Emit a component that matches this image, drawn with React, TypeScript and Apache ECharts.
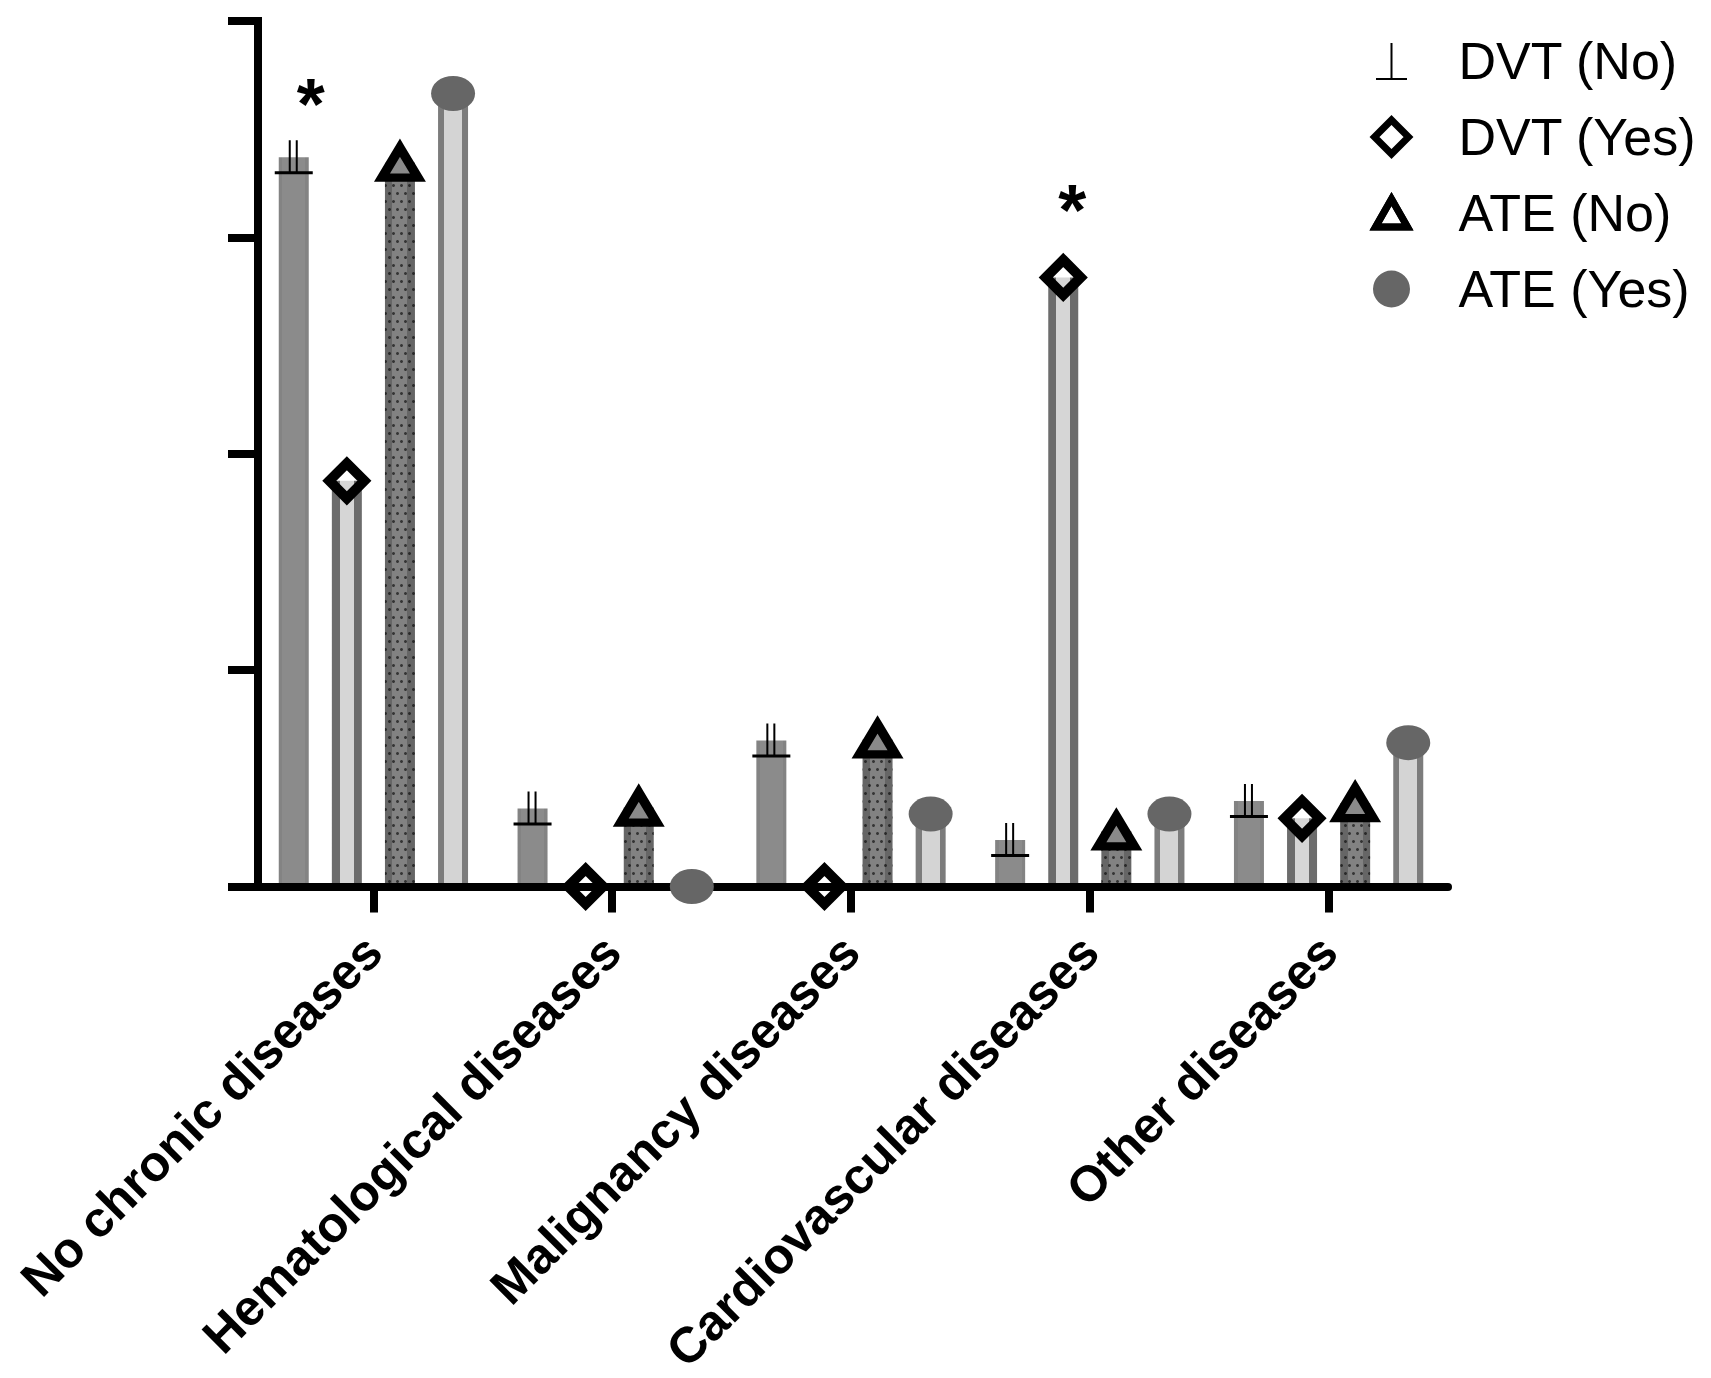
import React, { useEffect, useRef } from 'react';
import * as echarts from 'echarts';

// ---------- data ----------
const categories = [
  'No chronic diseases',
  'Hematological diseases',
  'Malignancy diseases',
  'Cardiovascular diseases',
  'Other diseases',
];
const seriesNames = ['DVT (No)', 'DVT (Yes)', 'ATE (No)', 'ATE (Yes)'];
const dvtNo = [67.4, 7.2, 13.5, 4.3, 7.9];
const dvtYes = [37.5, 0, 0, 56.3, 6.3];
const ateNo = [66.9, 7.3, 13.6, 5.1, 7.7];
const ateYes = [73.3, 0, 6.7, 6.7, 13.3];
const yTicks = [0, 20, 40, 60, 80];
const significance = [
  { series: 'DVT (No)', category: 'No chronic diseases', label: '*' },
  { series: 'DVT (Yes)', category: 'Cardiovascular diseases', label: '*' },
];

const seriesValues: Record<string, number[]> = {
  'DVT (No)': dvtNo,
  'DVT (Yes)': dvtYes,
  'ATE (No)': ateNo,
  'ATE (Yes)': ateYes,
};

// ---------- styles ----------
const FONT = '"Liberation Sans", Arial, Helvetica, sans-serif';

function stripes(edge: string, inner: string, e: number) {
  return {
    type: 'linear',
    x: 0,
    y: 0,
    x2: 1,
    y2: 0,
    colorStops: [
      { offset: 0, color: edge },
      { offset: e, color: edge },
      { offset: e, color: inner },
      { offset: 1 - e, color: inner },
      { offset: 1 - e, color: edge },
      { offset: 1, color: edge },
    ],
  };
}

const NO_DECAL = { symbol: 'rect', color: 'rgba(0,0,0,0)' };
const PAD = 'M0,0L0,0Z M44,44L44,44Z ';
const styles: Record<string, any> = {
  'DVT (No)': {
    bar: stripes('#838383', '#8b8b8b', 0.12),
    marker: {
      symbol: 'path://M14,0h2v32h-2z M21,0h2v32h-2z M0,31h38v3h-38z',
      symbolSize: [38, 34],
      itemStyle: { color: '#000' },
    },
    legendIcon: 'path://' + PAD + 'M21,4h2v36h-2z M6.5,39h31v2h-31z',
    legendStyle: { color: '#000', borderWidth: 0 },
    sigOffset: [17, -53],
  },
  'DVT (Yes)': {
    bar: stripes('#6c6c6c', '#d6d6d6', 0.27),
    marker: {
      symbol: 'diamond',
      symbolSize: 35,
      itemStyle: { color: 'rgba(0,0,0,0)', borderColor: '#000', borderWidth: 10, borderJoin: 'miter' },
    },
    legendIcon: 'path://' + PAD + 'M22,5L39,22L22,39L5,22Z',
    legendStyle: { color: '#fff', borderColor: '#000', borderWidth: 7, borderJoin: 'miter' },
    sigOffset: [9, -67],
  },
  'ATE (No)': {
    bar: stripes('#666666', '#828282', 0.25),
    decal: {
      symbol: 'circle',
      symbolSize: 1,
      color: 'rgba(0,0,0,0.6)',
      dashArrayX: [[3, 5], [0, 4, 3, 1]],
      dashArrayY: [3, 5],
      rotation: 0,
    },
    marker: {
      symbol: 'triangle',
      symbolSize: [36, 30],
      itemStyle: { color: '#8a8a8a', borderColor: '#000', borderWidth: 9, borderJoin: 'miter' },
    },
    legendIcon: 'path://' + PAD + 'M22,8L38,36L6,36Z',
    legendStyle: { color: '#fff', borderColor: '#000', borderWidth: 7, borderJoin: 'miter', decal: NO_DECAL },
    sigOffset: [0, -60],
  },
  'ATE (Yes)': {
    bar: stripes('#7c7c7c', '#d4d4d4', 0.2),
    marker: {
      symbol: 'path://M50,0A50,50,0,1,1,50,100A50,50,0,1,1,50,0Z',
      symbolSize: [44, 35],
      itemStyle: { color: '#666666' },
    },
    legendIcon: 'path://' + PAD + 'M22,3.5A18.5,18.5,0,1,1,22,40.5A18.5,18.5,0,1,1,22,3.5Z',
    legendStyle: { color: '#666666', borderWidth: 0 },
    sigOffset: [0, -60],
  },
};

function buildOption() {
  const series = seriesNames.map((name) => {
    const values = seriesValues[name];
    const st = styles[name];
    const markData: any[] = values.map((v, i) => ({ coord: [categories[i], v] }));
    significance
      .filter((s) => s.series === name)
      .forEach((s) => {
        const idx = categories.indexOf(s.category);
        markData.push({
          coord: [s.category, values[idx]],
          symbol: 'rect',
          symbolSize: 1,
          itemStyle: { color: 'rgba(0,0,0,0)', borderWidth: 0 },
          label: {
            show: true,
            formatter: s.label,
            position: 'inside',
            offset: st.sigOffset,
            fontSize: 72,
            fontWeight: 'bold',
            fontFamily: FONT,
            color: '#000',
          },
        });
      });
    const itemStyle: any = { color: st.bar };
    if (st.decal) itemStyle.decal = st.decal;
    return {
      name,
      type: 'bar',
      data: values,
      barWidth: 30,
      barGap: '77%',
      itemStyle,
      emphasis: { disabled: true },
      markPoint: {
        silent: true,
        z: 6,
        symbol: st.marker.symbol,
        symbolSize: st.marker.symbolSize,
        itemStyle: st.marker.itemStyle,
        label: { show: false },
        emphasis: { disabled: true },
        data: markData,
      },
    };
  });

  return {
    animation: false,
    backgroundColor: '#ffffff',
    textStyle: { fontFamily: FONT },
    grid: { left: 254, right: 263, top: 21, bottom: 487, containLabel: false },
    legend: {
      orient: 'vertical',
      left: 1361,
      top: 30,
      itemWidth: 124,
      itemHeight: 44,
      itemGap: 24,
      selectedMode: false,
      textStyle: { fontSize: 52, color: '#000', fontFamily: FONT, lineHeight: 52 },
      data: seriesNames.map((n) => ({
        name: n,
        icon: styles[n].legendIcon,
        itemStyle: styles[n].legendStyle,
      })),
    },
    xAxis: {
      type: 'category',
      data: categories,
      z: 3,
      axisLine: { show: true, lineStyle: { color: '#000', width: 8 } },
      axisTick: { show: true, alignWithLabel: true, length: 26, lineStyle: { color: '#000', width: 8 } },
      axisLabel: {
        rotate: 45,
        margin: 57,
        fontSize: 50,
        fontWeight: 'bold',
        color: '#000',
        fontFamily: FONT,
        interval: 0,
      },
      splitLine: { show: false },
    },
    yAxis: {
      type: 'value',
      min: yTicks[0],
      max: yTicks[yTicks.length - 1],
      interval: yTicks[1] - yTicks[0],
      offset: -4,
      z: 3,
      axisLine: { show: true, lineStyle: { color: '#000', width: 8, cap: 'square' } },
      axisTick: { show: true, length: 30, lineStyle: { color: '#000', width: 8 } },
      axisLabel: { show: false },
      splitLine: { show: false },
    },
    series,
  };
}

export default function App() {
  const ref = useRef<HTMLDivElement>(null);
  useEffect(() => {
    document.body.style.margin = '0';
    if (!ref.current) return;
    const chart = echarts.init(ref.current, undefined, { renderer: 'svg' });
    chart.setOption(buildOption() as any);
    return () => chart.dispose();
  }, []);
  return <div ref={ref} style={{ width: 1711, height: 1378, background: '#fff' }} />;
}
